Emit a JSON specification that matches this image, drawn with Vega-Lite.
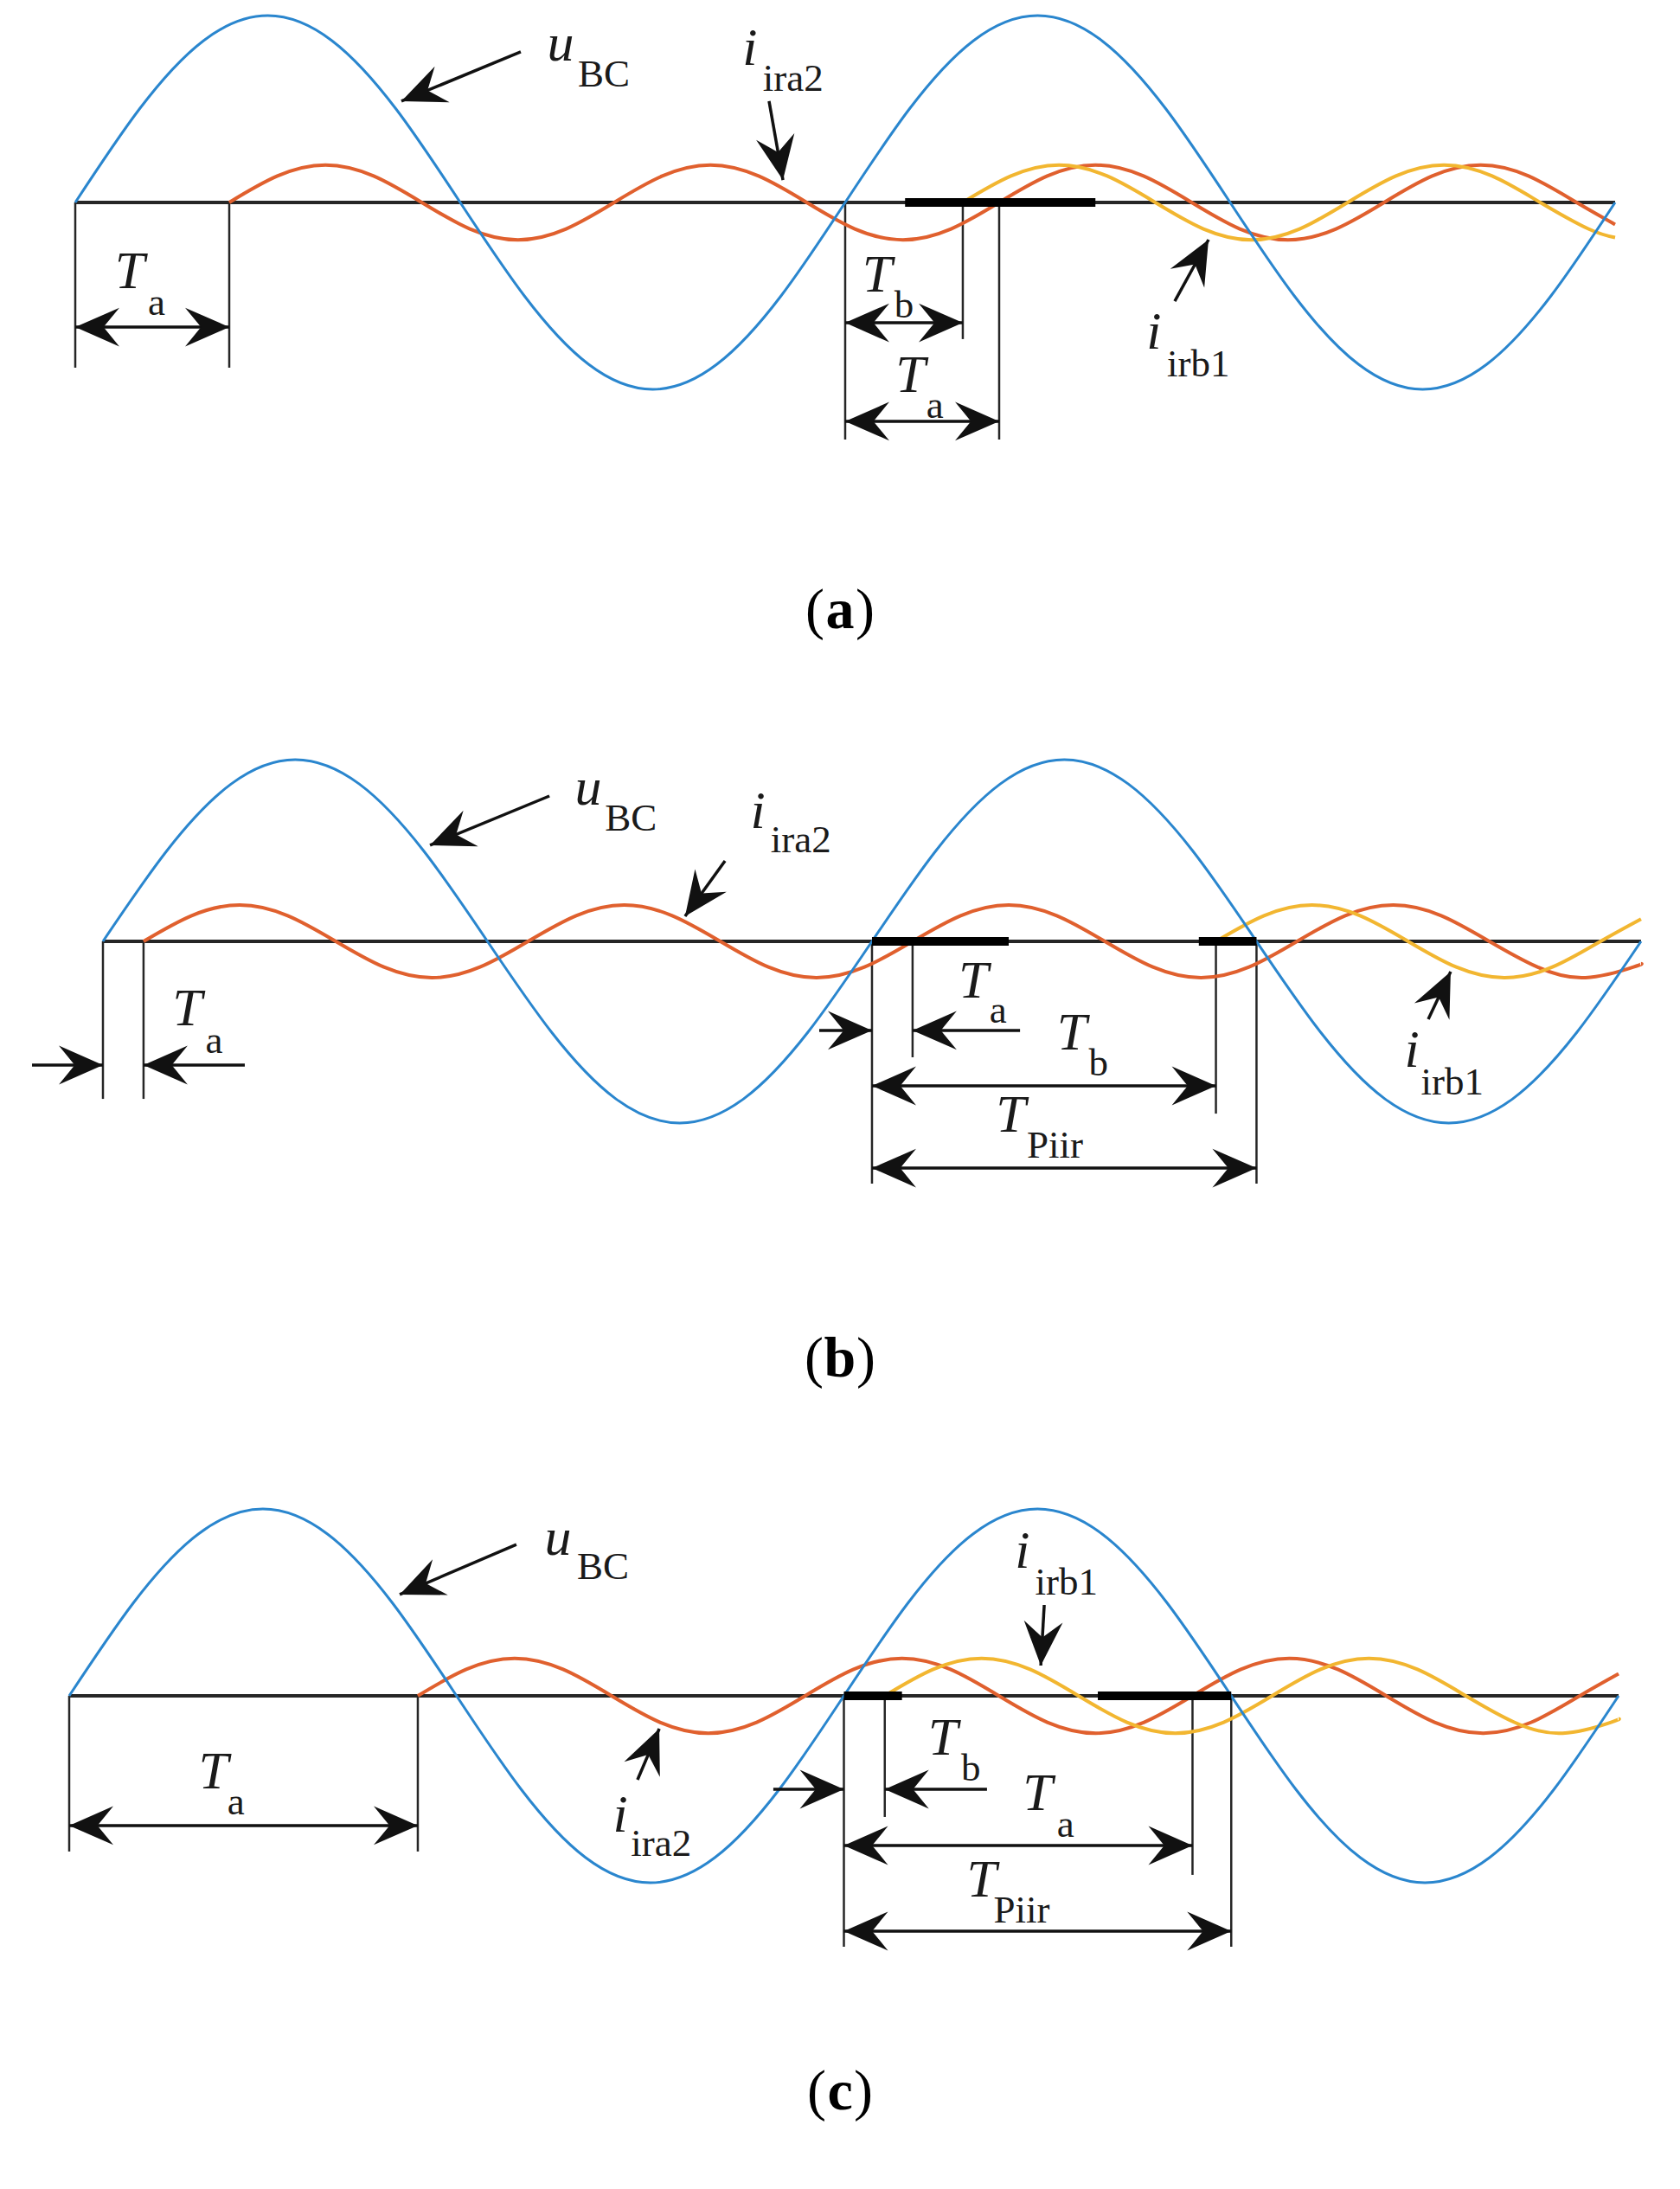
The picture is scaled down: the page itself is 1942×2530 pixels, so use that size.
{
"$schema": "https://vega.github.io/schema/vega-lite/v6.json",
"padding": 0,
"spacing": 0,
"background": "white",
"config": {"view": {"stroke": null}},
"resolve": {"scale": {"x": "independent", "y": "independent"}},
"datasets": {
"uBC": [{"x":0,"y":0},{"x":30,"y":0.5},{"x":60,"y":0.866},{"x":90,"y":1},{"x":120,"y":0.866},{"x":150,"y":0.5},{"x":180,"y":0},{"x":210,"y":-0.5},{"x":240,"y":-0.866},{"x":270,"y":-1},{"x":300,"y":-0.866},{"x":330,"y":-0.5},{"x":360,"y":0},{"x":390,"y":0.5},{"x":420,"y":0.866},{"x":450,"y":1},{"x":480,"y":0.866},{"x":510,"y":0.5},{"x":540,"y":0},{"x":570,"y":-0.5},{"x":600,"y":-0.866},{"x":630,"y":-1},{"x":660,"y":-0.866},{"x":690,"y":-0.5},{"x":720,"y":0}],
"currents": [
{"p":"a","s":"ira2","x":72,"y":0},{"p":"a","s":"ira2","x":94.5,"y":0.1414},{"p":"a","s":"ira2","x":117,"y":0.2},{"p":"a","s":"ira2","x":139.5,"y":0.1414},{"p":"a","s":"ira2","x":162,"y":0},{"p":"a","s":"ira2","x":184.5,"y":-0.1414},{"p":"a","s":"ira2","x":207,"y":-0.2},{"p":"a","s":"ira2","x":229.5,"y":-0.1414},{"p":"a","s":"ira2","x":252,"y":0},{"p":"a","s":"ira2","x":274.5,"y":0.1414},{"p":"a","s":"ira2","x":297,"y":0.2},{"p":"a","s":"ira2","x":319.5,"y":0.1414},{"p":"a","s":"ira2","x":342,"y":0},{"p":"a","s":"ira2","x":364.5,"y":-0.1414},{"p":"a","s":"ira2","x":387,"y":-0.2},{"p":"a","s":"ira2","x":409.5,"y":-0.1414},{"p":"a","s":"ira2","x":432,"y":0},{"p":"a","s":"ira2","x":454.5,"y":0.1414},{"p":"a","s":"ira2","x":477,"y":0.2},{"p":"a","s":"ira2","x":499.5,"y":0.1414},{"p":"a","s":"ira2","x":522,"y":0},{"p":"a","s":"ira2","x":544.5,"y":-0.1414},{"p":"a","s":"ira2","x":567,"y":-0.2},{"p":"a","s":"ira2","x":589.5,"y":-0.1414},{"p":"a","s":"ira2","x":612,"y":0},{"p":"a","s":"ira2","x":634.5,"y":0.1414},{"p":"a","s":"ira2","x":657,"y":0.2},{"p":"a","s":"ira2","x":679.5,"y":0.1414},{"p":"a","s":"ira2","x":702,"y":0},{"p":"a","s":"ira2","x":720,"y":-0.1176},
{"p":"a","s":"irb1","x":415,"y":0},{"p":"a","s":"irb1","x":437.5,"y":0.1414},{"p":"a","s":"irb1","x":460,"y":0.2},{"p":"a","s":"irb1","x":482.5,"y":0.1414},{"p":"a","s":"irb1","x":505,"y":0},{"p":"a","s":"irb1","x":527.5,"y":-0.1414},{"p":"a","s":"irb1","x":550,"y":-0.2},{"p":"a","s":"irb1","x":572.5,"y":-0.1414},{"p":"a","s":"irb1","x":595,"y":0},{"p":"a","s":"irb1","x":617.5,"y":0.1414},{"p":"a","s":"irb1","x":640,"y":0.2},{"p":"a","s":"irb1","x":662.5,"y":0.1414},{"p":"a","s":"irb1","x":685,"y":0},{"p":"a","s":"irb1","x":707.5,"y":-0.1414},{"p":"a","s":"irb1","x":720,"y":-0.1879},
{"p":"b","s":"ira2","x":19,"y":0},{"p":"b","s":"ira2","x":41.5,"y":0.1414},{"p":"b","s":"ira2","x":64,"y":0.2},{"p":"b","s":"ira2","x":86.5,"y":0.1414},{"p":"b","s":"ira2","x":109,"y":0},{"p":"b","s":"ira2","x":131.5,"y":-0.1414},{"p":"b","s":"ira2","x":154,"y":-0.2},{"p":"b","s":"ira2","x":176.5,"y":-0.1414},{"p":"b","s":"ira2","x":199,"y":0},{"p":"b","s":"ira2","x":221.5,"y":0.1414},{"p":"b","s":"ira2","x":244,"y":0.2},{"p":"b","s":"ira2","x":266.5,"y":0.1414},{"p":"b","s":"ira2","x":289,"y":0},{"p":"b","s":"ira2","x":311.5,"y":-0.1414},{"p":"b","s":"ira2","x":334,"y":-0.2},{"p":"b","s":"ira2","x":356.5,"y":-0.1414},{"p":"b","s":"ira2","x":379,"y":0},{"p":"b","s":"ira2","x":401.5,"y":0.1414},{"p":"b","s":"ira2","x":424,"y":0.2},{"p":"b","s":"ira2","x":446.5,"y":0.1414},{"p":"b","s":"ira2","x":469,"y":0},{"p":"b","s":"ira2","x":491.5,"y":-0.1414},{"p":"b","s":"ira2","x":514,"y":-0.2},{"p":"b","s":"ira2","x":536.5,"y":-0.1414},{"p":"b","s":"ira2","x":559,"y":0},{"p":"b","s":"ira2","x":581.5,"y":0.1414},{"p":"b","s":"ira2","x":604,"y":0.2},{"p":"b","s":"ira2","x":626.5,"y":0.1414},{"p":"b","s":"ira2","x":649,"y":0},{"p":"b","s":"ira2","x":671.5,"y":-0.1414},{"p":"b","s":"ira2","x":694,"y":-0.2},{"p":"b","s":"ira2","x":716.5,"y":-0.1414},{"p":"b","s":"ira2","x":720,"y":-0.1231},
{"p":"b","s":"irb1","x":521,"y":0},{"p":"b","s":"irb1","x":543.5,"y":0.1414},{"p":"b","s":"irb1","x":566,"y":0.2},{"p":"b","s":"irb1","x":588.5,"y":0.1414},{"p":"b","s":"irb1","x":611,"y":0},{"p":"b","s":"irb1","x":633.5,"y":-0.1414},{"p":"b","s":"irb1","x":656,"y":-0.2},{"p":"b","s":"irb1","x":678.5,"y":-0.1414},{"p":"b","s":"irb1","x":701,"y":0},{"p":"b","s":"irb1","x":720,"y":0.1231},
{"p":"c","s":"ira2","x":162,"y":0},{"p":"c","s":"ira2","x":184.5,"y":0.1414},{"p":"c","s":"ira2","x":207,"y":0.2},{"p":"c","s":"ira2","x":229.5,"y":0.1414},{"p":"c","s":"ira2","x":252,"y":0},{"p":"c","s":"ira2","x":274.5,"y":-0.1414},{"p":"c","s":"ira2","x":297,"y":-0.2},{"p":"c","s":"ira2","x":319.5,"y":-0.1414},{"p":"c","s":"ira2","x":342,"y":0},{"p":"c","s":"ira2","x":364.5,"y":0.1414},{"p":"c","s":"ira2","x":387,"y":0.2},{"p":"c","s":"ira2","x":409.5,"y":0.1414},{"p":"c","s":"ira2","x":432,"y":0},{"p":"c","s":"ira2","x":454.5,"y":-0.1414},{"p":"c","s":"ira2","x":477,"y":-0.2},{"p":"c","s":"ira2","x":499.5,"y":-0.1414},{"p":"c","s":"ira2","x":522,"y":0},{"p":"c","s":"ira2","x":544.5,"y":0.1414},{"p":"c","s":"ira2","x":567,"y":0.2},{"p":"c","s":"ira2","x":589.5,"y":0.1414},{"p":"c","s":"ira2","x":612,"y":0},{"p":"c","s":"ira2","x":634.5,"y":-0.1414},{"p":"c","s":"ira2","x":657,"y":-0.2},{"p":"c","s":"ira2","x":679.5,"y":-0.1414},{"p":"c","s":"ira2","x":702,"y":0},{"p":"c","s":"ira2","x":720,"y":0.1176},
{"p":"c","s":"irb1","x":379,"y":0},{"p":"c","s":"irb1","x":401.5,"y":0.1414},{"p":"c","s":"irb1","x":424,"y":0.2},{"p":"c","s":"irb1","x":446.5,"y":0.1414},{"p":"c","s":"irb1","x":469,"y":0},{"p":"c","s":"irb1","x":491.5,"y":-0.1414},{"p":"c","s":"irb1","x":514,"y":-0.2},{"p":"c","s":"irb1","x":536.5,"y":-0.1414},{"p":"c","s":"irb1","x":559,"y":0},{"p":"c","s":"irb1","x":581.5,"y":0.1414},{"p":"c","s":"irb1","x":604,"y":0.2},{"p":"c","s":"irb1","x":626.5,"y":0.1414},{"p":"c","s":"irb1","x":649,"y":0},{"p":"c","s":"irb1","x":671.5,"y":-0.1414},{"p":"c","s":"irb1","x":694,"y":-0.2},{"p":"c","s":"irb1","x":716.5,"y":-0.1414},{"p":"c","s":"irb1","x":720,"y":-0.1231}
],
"segs": [
{"p":"a","k":"axis","x":0,"x2":720,"y":0,"y2":0},
{"p":"a","k":"bar","x":388,"x2":477,"y":0,"y2":0},
{"p":"a","k":"dim","x":0,"x2":0,"y":0,"y2":-0.884},
{"p":"a","k":"dim","x":72,"x2":72,"y":0,"y2":-0.884},
{"p":"a","k":"dim","x":360,"x2":360,"y":0,"y2":-1.269},
{"p":"a","k":"dim","x":415,"x2":415,"y":0,"y2":-0.731},
{"p":"a","k":"dim","x":432,"x2":432,"y":0,"y2":-1.269},
{"p":"a","k":"shaft","x":0,"x2":72,"y":-0.667,"y2":-0.667},
{"p":"a","k":"shaft","x":360,"x2":415,"y":-0.644,"y2":-0.644},
{"p":"a","k":"shaft","x":360,"x2":432,"y":-1.171,"y2":-1.171},
{"p":"a","k":"shaft","x":208.3,"x2":152.5,"y":0.806,"y2":0.542},
{"p":"a","k":"shaft","x":324.4,"x2":330.9,"y":0.542,"y2":0.12},
{"p":"a","k":"shaft","x":514.1,"x2":529.9,"y":-0.528,"y2":-0.199},
{"p":"b","k":"axis","x":0,"x2":720,"y":0,"y2":0},
{"p":"b","k":"bar","x":360,"x2":424,"y":0,"y2":0},
{"p":"b","k":"bar","x":513,"x2":540,"y":0,"y2":0},
{"p":"b","k":"dim","x":0,"x2":0,"y":0,"y2":-0.867},
{"p":"b","k":"dim","x":19,"x2":19,"y":0,"y2":-0.867},
{"p":"b","k":"dim","x":360,"x2":360,"y":0,"y2":-1.333},
{"p":"b","k":"dim","x":379,"x2":379,"y":0,"y2":-0.638},
{"p":"b","k":"dim","x":521,"x2":521,"y":0,"y2":-0.948},
{"p":"b","k":"dim","x":540,"x2":540,"y":0,"y2":-1.333},
{"p":"b","k":"shaft","x":-33.2,"x2":0,"y":-0.681,"y2":-0.681},
{"p":"b","k":"shaft","x":19,"x2":66.4,"y":-0.681,"y2":-0.681},
{"p":"b","k":"shaft","x":335.3,"x2":360,"y":-0.49,"y2":-0.49},
{"p":"b","k":"shaft","x":379,"x2":429.3,"y":-0.49,"y2":-0.49},
{"p":"b","k":"shaft","x":360,"x2":521,"y":-0.795,"y2":-0.795},
{"p":"b","k":"shaft","x":360,"x2":540,"y":-1.248,"y2":-1.248},
{"p":"b","k":"shaft","x":209,"x2":153.1,"y":0.8,"y2":0.529},
{"p":"b","k":"shaft","x":291.2,"x2":272.5,"y":0.443,"y2":0.138},
{"p":"b","k":"shaft","x":620.4,"x2":630.9,"y":-0.429,"y2":-0.167},
{"p":"c","k":"axis","x":0,"x2":720,"y":0,"y2":0},
{"p":"c","k":"bar","x":360,"x2":387,"y":0,"y2":0},
{"p":"c","k":"bar","x":478,"x2":540,"y":0,"y2":0},
{"p":"c","k":"dim","x":0,"x2":0,"y":0,"y2":-0.833},
{"p":"c","k":"dim","x":162,"x2":162,"y":0,"y2":-0.833},
{"p":"c","k":"dim","x":360,"x2":360,"y":0,"y2":-1.343},
{"p":"c","k":"dim","x":379,"x2":379,"y":0,"y2":-0.648},
{"p":"c","k":"dim","x":522,"x2":522,"y":0,"y2":-0.958},
{"p":"c","k":"dim","x":540,"x2":540,"y":0,"y2":-1.343},
{"p":"c","k":"shaft","x":0,"x2":162,"y":-0.694,"y2":-0.694},
{"p":"c","k":"shaft","x":327.2,"x2":360,"y":-0.5,"y2":-0.5},
{"p":"c","k":"shaft","x":379,"x2":426.5,"y":-0.5,"y2":-0.5},
{"p":"c","k":"shaft","x":360,"x2":522,"y":-0.801,"y2":-0.801},
{"p":"c","k":"shaft","x":360,"x2":540,"y":-1.259,"y2":-1.259},
{"p":"c","k":"shaft","x":207.8,"x2":153.6,"y":0.81,"y2":0.542},
{"p":"c","k":"shaft","x":264.1,"x2":274.2,"y":-0.449,"y2":-0.176},
{"p":"c","k":"shaft","x":453.1,"x2":451.5,"y":0.486,"y2":0.162}
],
"heads": [
{"p":"a","x":0,"y":-0.667,"ang":180},{"p":"a","x":72,"y":-0.667,"ang":0},{"p":"a","x":360,"y":-0.644,"ang":180},{"p":"a","x":415,"y":-0.644,"ang":0},{"p":"a","x":360,"y":-1.171,"ang":180},{"p":"a","x":432,"y":-1.171,"ang":0},{"p":"a","x":152.5,"y":0.542,"ang":157.6},{"p":"a","x":330.9,"y":0.12,"ang":80},{"p":"a","x":529.9,"y":-0.199,"ang":298.8},
{"p":"b","x":0,"y":-0.681,"ang":0},{"p":"b","x":19,"y":-0.681,"ang":180},{"p":"b","x":360,"y":-0.49,"ang":0},{"p":"b","x":379,"y":-0.49,"ang":180},{"p":"b","x":360,"y":-0.795,"ang":180},{"p":"b","x":521,"y":-0.795,"ang":0},{"p":"b","x":360,"y":-1.248,"ang":180},{"p":"b","x":540,"y":-1.248,"ang":0},{"p":"b","x":153.1,"y":0.529,"ang":157.6},{"p":"b","x":272.5,"y":0.138,"ang":125.7},{"p":"b","x":630.9,"y":-0.167,"ang":295.3},
{"p":"c","x":0,"y":-0.694,"ang":180},{"p":"c","x":162,"y":-0.694,"ang":0},{"p":"c","x":360,"y":-0.5,"ang":0},{"p":"c","x":379,"y":-0.5,"ang":180},{"p":"c","x":360,"y":-0.801,"ang":180},{"p":"c","x":522,"y":-0.801,"ang":0},{"p":"c","x":360,"y":-1.259,"ang":180},{"p":"c","x":540,"y":-1.259,"ang":0},{"p":"c","x":153.6,"y":0.542,"ang":156.8},{"p":"c","x":274.2,"y":-0.176,"ang":293},{"p":"c","x":451.5,"y":0.162,"ang":93.3}
],
"labels": [
{"p":"a","r":"m","t":"T","x":25.5,"y":-0.458},{"p":"a","r":"s","t":"a","x":38,"y":-0.602},
{"p":"a","r":"m","t":"T","x":375,"y":-0.477},{"p":"a","r":"s","t":"b","x":387.5,"y":-0.616},
{"p":"a","r":"m","t":"T","x":390.5,"y":-1.014},{"p":"a","r":"s","t":"a","x":402,"y":-1.153},
{"p":"a","r":"m","t":"u","x":226.9,"y":0.759},{"p":"a","r":"sl","t":"BC","x":235,"y":0.62},
{"p":"a","r":"m","t":"i","x":315.5,"y":0.736},{"p":"a","r":"sl","t":"ira2","x":321.5,"y":0.597},
{"p":"a","r":"m","t":"i","x":504.4,"y":-0.782},{"p":"a","r":"sl","t":"irb1","x":510.5,"y":-0.931},
{"p":"a","r":"c","t":"a","x":357.6,"y":-2.278},
{"p":"b","r":"m","t":"T","x":39.5,"y":-0.462},{"p":"b","r":"s","t":"a","x":52,"y":-0.614},
{"p":"b","r":"m","t":"T","x":407.5,"y":-0.31},{"p":"b","r":"s","t":"a","x":419,"y":-0.448},
{"p":"b","r":"m","t":"T","x":453.5,"y":-0.595},{"p":"b","r":"s","t":"b","x":466,"y":-0.738},
{"p":"b","r":"m","t":"T","x":425,"y":-1.048},{"p":"b","r":"sl","t":"Piir","x":432.5,"y":-1.19},
{"p":"b","r":"m","t":"u","x":227.2,"y":0.752},{"p":"b","r":"sl","t":"BC","x":235,"y":0.61},
{"p":"b","r":"m","t":"i","x":306.6,"y":0.624},{"p":"b","r":"sl","t":"ira2","x":312.5,"y":0.49},
{"p":"b","r":"m","t":"i","x":612.7,"y":-0.69},{"p":"b","r":"sl","t":"irb1","x":617,"y":-0.843},
{"p":"b","r":"c","t":"b","x":345,"y":-2.395},
{"p":"c","r":"m","t":"T","x":67,"y":-0.495},{"p":"c","r":"s","t":"a","x":77.5,"y":-0.634},
{"p":"c","r":"m","t":"T","x":406,"y":-0.315},{"p":"c","r":"s","t":"b","x":419,"y":-0.454},
{"p":"c","r":"m","t":"T","x":450,"y":-0.611},{"p":"c","r":"s","t":"a","x":463,"y":-0.755},
{"p":"c","r":"m","t":"T","x":424,"y":-1.074},{"p":"c","r":"sl","t":"Piir","x":429.5,"y":-1.213},
{"p":"c","r":"m","t":"u","x":227.1,"y":0.755},{"p":"c","r":"sl","t":"BC","x":236,"y":0.625},
{"p":"c","r":"m","t":"i","x":256.1,"y":-0.727},{"p":"c","r":"sl","t":"ira2","x":261,"y":-0.856},
{"p":"c","r":"m","t":"i","x":443,"y":0.685},{"p":"c","r":"sl","t":"irb1","x":448.8,"y":0.542},
{"p":"c","r":"c","t":"c","x":358.2,"y":-2.213}
]
},
"vconcat": [
{
"width": 1942, "height": 843,
"encoding": {
"x": {"field":"x","type":"quantitative","scale":{"domain":[-35.19,750.34],"nice":false,"zero":false},"axis":null},
"y": {"field":"y","type":"quantitative","scale":{"domain":[-2.8194,1.0833],"nice":false,"zero":false},"axis":null}
},
"layer": [
{"data":{"name":"segs"},"transform":[{"filter":"datum.p=='a' && datum.k=='axis'"}],"mark":{"type":"rule","color":"#262626","strokeWidth":4},"encoding":{"x2":{"field":"x2"},"y2":{"field":"y2"}}},
{"data":{"name":"segs"},"transform":[{"filter":"datum.p=='a' && datum.k=='dim'"}],"mark":{"type":"rule","color":"#262626","strokeWidth":2.5},"encoding":{"x2":{"field":"x2"},"y2":{"field":"y2"}}},
{"data":{"name":"currents"},"transform":[{"filter":"datum.p=='a'"}],"mark":{"type":"line","interpolate":"natural","strokeWidth":4},"encoding":{"color":{"field":"s","type":"nominal","scale":{"domain":["ira2","irb1"],"range":["#E0602E","#F2B630"]},"legend":null}}},
{"data":{"name":"uBC"},"mark":{"type":"line","interpolate":"natural","strokeWidth":3,"color":"#2A86CE"}},
{"data":{"name":"segs"},"transform":[{"filter":"datum.p=='a' && datum.k=='bar'"}],"mark":{"type":"rule","color":"#000000","strokeWidth":10},"encoding":{"x2":{"field":"x2"},"y2":{"field":"y2"}}},
{"data":{"name":"segs"},"transform":[{"filter":"datum.p=='a' && datum.k=='shaft'"}],"mark":{"type":"rule","color":"#111111","strokeWidth":3.5},"encoding":{"x2":{"field":"x2"},"y2":{"field":"y2"}}},
{"data":{"name":"heads"},"transform":[{"filter":"datum.p=='a'"}],"mark":{"type":"point","shape":"M0,0L-1,-0.44L-0.64,0L-1,0.44Z","size":10400,"filled":true,"color":"#111111","opacity":1,"strokeWidth":0},"encoding":{"angle":{"field":"ang","type":"quantitative","scale":null}}},
{"data":{"name":"labels"},"transform":[{"filter":"datum.p=='a' && datum.r=='m'"}],"mark":{"type":"text","font":"Liberation Serif","fontStyle":"italic","fontSize":62,"align":"center","baseline":"alphabetic","color":"#1a1a1a"},"encoding":{"text":{"field":"t"}}},
{"data":{"name":"labels"},"transform":[{"filter":"datum.p=='a' && datum.r=='s'"}],"mark":{"type":"text","font":"Liberation Serif","fontSize":45,"align":"center","baseline":"alphabetic","color":"#1a1a1a"},"encoding":{"text":{"field":"t"}}},
{"data":{"name":"labels"},"transform":[{"filter":"datum.p=='a' && datum.r=='sl'"}],"mark":{"type":"text","font":"Liberation Serif","fontSize":45,"align":"left","baseline":"alphabetic","color":"#1a1a1a"},"encoding":{"text":{"field":"t"}}},
{"data":{"name":"labels"},"transform":[{"filter":"datum.p=='a' && datum.r=='c'"}],"mark":{"type":"text","font":"Liberation Serif","fontWeight":"bold","fontSize":66,"align":"center","baseline":"alphabetic","color":"#000000"},"encoding":{"text":{"field":"t"}}},
{"data":{"name":"labels"},"transform":[{"filter":"datum.p=='a' && datum.r=='c'"}],"mark":{"type":"text","text":"(","dx":-18,"font":"Liberation Serif","fontSize":66,"align":"right","baseline":"alphabetic","color":"#000000"}},
{"data":{"name":"labels"},"transform":[{"filter":"datum.p=='a' && datum.r=='c'"}],"mark":{"type":"text","text":")","dx":18,"font":"Liberation Serif","fontSize":66,"align":"left","baseline":"alphabetic","color":"#000000"}}
]
},
{
"width": 1942, "height": 843,
"encoding": {
"x": {"field":"x","type":"quantitative","scale":{"domain":[-48.19,738.24],"nice":false,"zero":false},"axis":null},
"y": {"field":"y","type":"quantitative","scale":{"domain":[-2.8476,1.1667],"nice":false,"zero":false},"axis":null}
},
"layer": [
{"data":{"name":"segs"},"transform":[{"filter":"datum.p=='b' && datum.k=='axis'"}],"mark":{"type":"rule","color":"#262626","strokeWidth":4},"encoding":{"x2":{"field":"x2"},"y2":{"field":"y2"}}},
{"data":{"name":"segs"},"transform":[{"filter":"datum.p=='b' && datum.k=='dim'"}],"mark":{"type":"rule","color":"#262626","strokeWidth":2.5},"encoding":{"x2":{"field":"x2"},"y2":{"field":"y2"}}},
{"data":{"name":"currents"},"transform":[{"filter":"datum.p=='b'"}],"mark":{"type":"line","interpolate":"natural","strokeWidth":4},"encoding":{"color":{"field":"s","type":"nominal","scale":{"domain":["ira2","irb1"],"range":["#E0602E","#F2B630"]},"legend":null}}},
{"data":{"name":"uBC"},"mark":{"type":"line","interpolate":"natural","strokeWidth":3,"color":"#2A86CE"}},
{"data":{"name":"segs"},"transform":[{"filter":"datum.p=='b' && datum.k=='bar'"}],"mark":{"type":"rule","color":"#000000","strokeWidth":10},"encoding":{"x2":{"field":"x2"},"y2":{"field":"y2"}}},
{"data":{"name":"segs"},"transform":[{"filter":"datum.p=='b' && datum.k=='shaft'"}],"mark":{"type":"rule","color":"#111111","strokeWidth":3.5},"encoding":{"x2":{"field":"x2"},"y2":{"field":"y2"}}},
{"data":{"name":"heads"},"transform":[{"filter":"datum.p=='b'"}],"mark":{"type":"point","shape":"M0,0L-1,-0.44L-0.64,0L-1,0.44Z","size":10400,"filled":true,"color":"#111111","opacity":1,"strokeWidth":0},"encoding":{"angle":{"field":"ang","type":"quantitative","scale":null}}},
{"data":{"name":"labels"},"transform":[{"filter":"datum.p=='b' && datum.r=='m'"}],"mark":{"type":"text","font":"Liberation Serif","fontStyle":"italic","fontSize":62,"align":"center","baseline":"alphabetic","color":"#1a1a1a"},"encoding":{"text":{"field":"t"}}},
{"data":{"name":"labels"},"transform":[{"filter":"datum.p=='b' && datum.r=='s'"}],"mark":{"type":"text","font":"Liberation Serif","fontSize":45,"align":"center","baseline":"alphabetic","color":"#1a1a1a"},"encoding":{"text":{"field":"t"}}},
{"data":{"name":"labels"},"transform":[{"filter":"datum.p=='b' && datum.r=='sl'"}],"mark":{"type":"text","font":"Liberation Serif","fontSize":45,"align":"left","baseline":"alphabetic","color":"#1a1a1a"},"encoding":{"text":{"field":"t"}}},
{"data":{"name":"labels"},"transform":[{"filter":"datum.p=='b' && datum.r=='c'"}],"mark":{"type":"text","font":"Liberation Serif","fontWeight":"bold","fontSize":66,"align":"center","baseline":"alphabetic","color":"#000000"},"encoding":{"text":{"field":"t"}}},
{"data":{"name":"labels"},"transform":[{"filter":"datum.p=='b' && datum.r=='c'"}],"mark":{"type":"text","text":"(","dx":-19,"font":"Liberation Serif","fontSize":66,"align":"right","baseline":"alphabetic","color":"#000000"}},
{"data":{"name":"labels"},"transform":[{"filter":"datum.p=='b' && datum.r=='c'"}],"mark":{"type":"text","text":")","dx":19,"font":"Liberation Serif","fontSize":66,"align":"left","baseline":"alphabetic","color":"#000000"}}
]
},
{
"width": 1942, "height": 844,
"encoding": {
"x": {"field":"x","type":"quantitative","scale":{"domain":[-32.16,748.54],"nice":false,"zero":false},"axis":null},
"y": {"field":"y","type":"quantitative","scale":{"domain":[-2.6389,1.2685],"nice":false,"zero":false},"axis":null}
},
"layer": [
{"data":{"name":"segs"},"transform":[{"filter":"datum.p=='c' && datum.k=='axis'"}],"mark":{"type":"rule","color":"#262626","strokeWidth":4},"encoding":{"x2":{"field":"x2"},"y2":{"field":"y2"}}},
{"data":{"name":"segs"},"transform":[{"filter":"datum.p=='c' && datum.k=='dim'"}],"mark":{"type":"rule","color":"#262626","strokeWidth":2.5},"encoding":{"x2":{"field":"x2"},"y2":{"field":"y2"}}},
{"data":{"name":"currents"},"transform":[{"filter":"datum.p=='c'"}],"mark":{"type":"line","interpolate":"natural","strokeWidth":4},"encoding":{"color":{"field":"s","type":"nominal","scale":{"domain":["ira2","irb1"],"range":["#E0602E","#F2B630"]},"legend":null}}},
{"data":{"name":"uBC"},"mark":{"type":"line","interpolate":"natural","strokeWidth":3,"color":"#2A86CE"}},
{"data":{"name":"segs"},"transform":[{"filter":"datum.p=='c' && datum.k=='bar'"}],"mark":{"type":"rule","color":"#000000","strokeWidth":10},"encoding":{"x2":{"field":"x2"},"y2":{"field":"y2"}}},
{"data":{"name":"segs"},"transform":[{"filter":"datum.p=='c' && datum.k=='shaft'"}],"mark":{"type":"rule","color":"#111111","strokeWidth":3.5},"encoding":{"x2":{"field":"x2"},"y2":{"field":"y2"}}},
{"data":{"name":"heads"},"transform":[{"filter":"datum.p=='c'"}],"mark":{"type":"point","shape":"M0,0L-1,-0.44L-0.64,0L-1,0.44Z","size":10400,"filled":true,"color":"#111111","opacity":1,"strokeWidth":0},"encoding":{"angle":{"field":"ang","type":"quantitative","scale":null}}},
{"data":{"name":"labels"},"transform":[{"filter":"datum.p=='c' && datum.r=='m'"}],"mark":{"type":"text","font":"Liberation Serif","fontStyle":"italic","fontSize":62,"align":"center","baseline":"alphabetic","color":"#1a1a1a"},"encoding":{"text":{"field":"t"}}},
{"data":{"name":"labels"},"transform":[{"filter":"datum.p=='c' && datum.r=='s'"}],"mark":{"type":"text","font":"Liberation Serif","fontSize":45,"align":"center","baseline":"alphabetic","color":"#1a1a1a"},"encoding":{"text":{"field":"t"}}},
{"data":{"name":"labels"},"transform":[{"filter":"datum.p=='c' && datum.r=='sl'"}],"mark":{"type":"text","font":"Liberation Serif","fontSize":45,"align":"left","baseline":"alphabetic","color":"#1a1a1a"},"encoding":{"text":{"field":"t"}}},
{"data":{"name":"labels"},"transform":[{"filter":"datum.p=='c' && datum.r=='c'"}],"mark":{"type":"text","font":"Liberation Serif","fontWeight":"bold","fontSize":66,"align":"center","baseline":"alphabetic","color":"#000000"},"encoding":{"text":{"field":"t"}}},
{"data":{"name":"labels"},"transform":[{"filter":"datum.p=='c' && datum.r=='c'"}],"mark":{"type":"text","text":"(","dx":-16,"font":"Liberation Serif","fontSize":66,"align":"right","baseline":"alphabetic","color":"#000000"}},
{"data":{"name":"labels"},"transform":[{"filter":"datum.p=='c' && datum.r=='c'"}],"mark":{"type":"text","text":")","dx":16,"font":"Liberation Serif","fontSize":66,"align":"left","baseline":"alphabetic","color":"#000000"}}
]
}
]
}
